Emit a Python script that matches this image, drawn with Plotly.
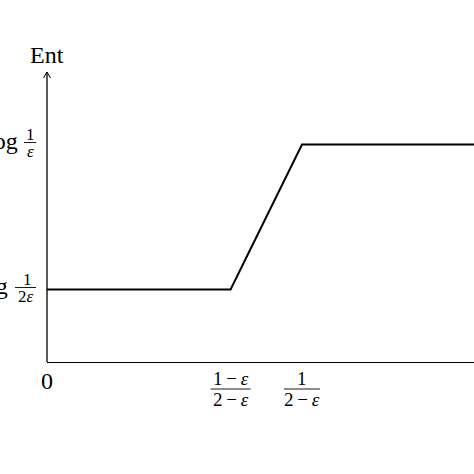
import plotly.graph_objects as go

# entropy profile: low plateau, linear rise, high plateau
x_pts = [0, 0.4186, 0.5814, 1.0]
y_pts = [1, 1, 2, 2]

# where the tick labels sit (in data units)
x_tick_vals = [0, 0.4186, 0.5814]
y_tick_vals = [1, 2]

X_RANGE = [0, 0.9736]
Y_RANGE = [0.5, 2.514]

FONT = "Liberation Serif"


def px(x):
    # data x -> paper fraction
    return (x - X_RANGE[0]) / (X_RANGE[1] - X_RANGE[0])


def py(y):
    # data y -> paper fraction
    return (y - Y_RANGE[0]) / (Y_RANGE[1] - Y_RANGE[0])


fig = go.Figure()

fig.add_trace(go.Scatter(
    x=x_pts,
    y=y_pts,
    mode="lines",
    line=dict(color="black", width=2),
    hoverinfo="skip",
    showlegend=False,
))

# y axis with a thin open arrow on top
shapes = [
    dict(type="line", xref="paper", yref="paper", x0=0, x1=0,
         y0=0, y1=py(2.5), line=dict(color="black", width=1.3)),
]
for dx in (-3.5, 3.5):
    shapes.append(dict(type="line", xref="paper", yref="paper",
                       xsizemode="pixel", ysizemode="pixel",
                       xanchor=0, yanchor=py(2.5),
                       x0=dx, y0=-6, x1=0, y1=0,
                       line=dict(color="black", width=1)))


def frac_bar(xa, ya, px0, px1, dy):
    # short horizontal fraction bar, offsets in pixels from a paper anchor
    return dict(type="line", xref="paper", yref="paper",
                xsizemode="pixel", ysizemode="pixel",
                xanchor=xa, yanchor=ya,
                x0=px0, x1=px1, y0=dy, y1=dy,
                line=dict(color="black", width=0.9))


def label(text, xa, ya, dx, dy, size, xanchor="center"):
    return dict(text=text, x=xa, y=ya, xref="x", yref="y",
                xshift=dx, yshift=dy, showarrow=False,
                xanchor=xanchor, yanchor="middle",
                font=dict(family=FONT, size=size, color="black"))


annotations = []

# axis title
annotations.append(dict(text="Ent", x=0, y=1, xref="x", yref="paper",
                        yshift=15, showarrow=False, xanchor="center",
                        yanchor="middle",
                        font=dict(family=FONT, size=24, color="black")))

# y tick: log 1/eps
yt_hi = y_tick_vals[1]
annotations.append(label("log", 0, yt_hi, -27, 4, 24, xanchor="right"))
annotations.append(label("1", 0, yt_hi, -17, 10, 17))
annotations.append(label("<i>ε</i>", 0, yt_hi, -17, -7, 17))
shapes.append(frac_bar(0, py(yt_hi), -23, -11, 2))

# y tick: log 1/(2 eps)
yt_lo = y_tick_vals[0]
annotations.append(label("log", 0, yt_lo, -37, 4, 24, xanchor="right"))
annotations.append(label("1", 0, yt_lo, -20, 10, 17))
annotations.append(label("2<i>ε</i>", 0, yt_lo, -21, -7, 17))
shapes.append(frac_bar(0, py(yt_lo), -32, -11, 2))

# x ticks
annotations.append(label("0", x_tick_vals[0], Y_RANGE[0], 0, -19, 24))

xa = x_tick_vals[1]
annotations.append(label("1\u2009−\u2009<i>ε</i>", xa, Y_RANGE[0], 0, -16, 19))
annotations.append(label("2\u2009−\u2009<i>ε</i>", xa, Y_RANGE[0], 0, -37, 19))
shapes.append(frac_bar(px(xa), 0, -20, 20, -27))

xb = x_tick_vals[2]
annotations.append(label("1", xb, Y_RANGE[0], 0, -16, 19))
annotations.append(label("2\u2009−\u2009<i>ε</i>", xb, Y_RANGE[0], 0, -37, 19))
shapes.append(frac_bar(px(xb), 0, -18, 18, -27))

fig.update_layout(
    width=474,
    height=474,
    margin=dict(l=47, r=0, t=70, b=112),
    paper_bgcolor="white",
    plot_bgcolor="white",
    xaxis=dict(range=X_RANGE, showgrid=False, zeroline=False,
               showticklabels=False, ticks="", showline=True,
               linecolor="black", linewidth=1.3, fixedrange=True),
    yaxis=dict(range=Y_RANGE, showgrid=False, zeroline=False,
               showticklabels=False, ticks="", showline=False,
               fixedrange=True),
    shapes=shapes,
    annotations=annotations,
)

fig.write_html(
    "out.html",
    config={"displayModeBar": False},
    post_script="document.body.style.margin='0';"
                "document.body.style.overflow='hidden';",
)
